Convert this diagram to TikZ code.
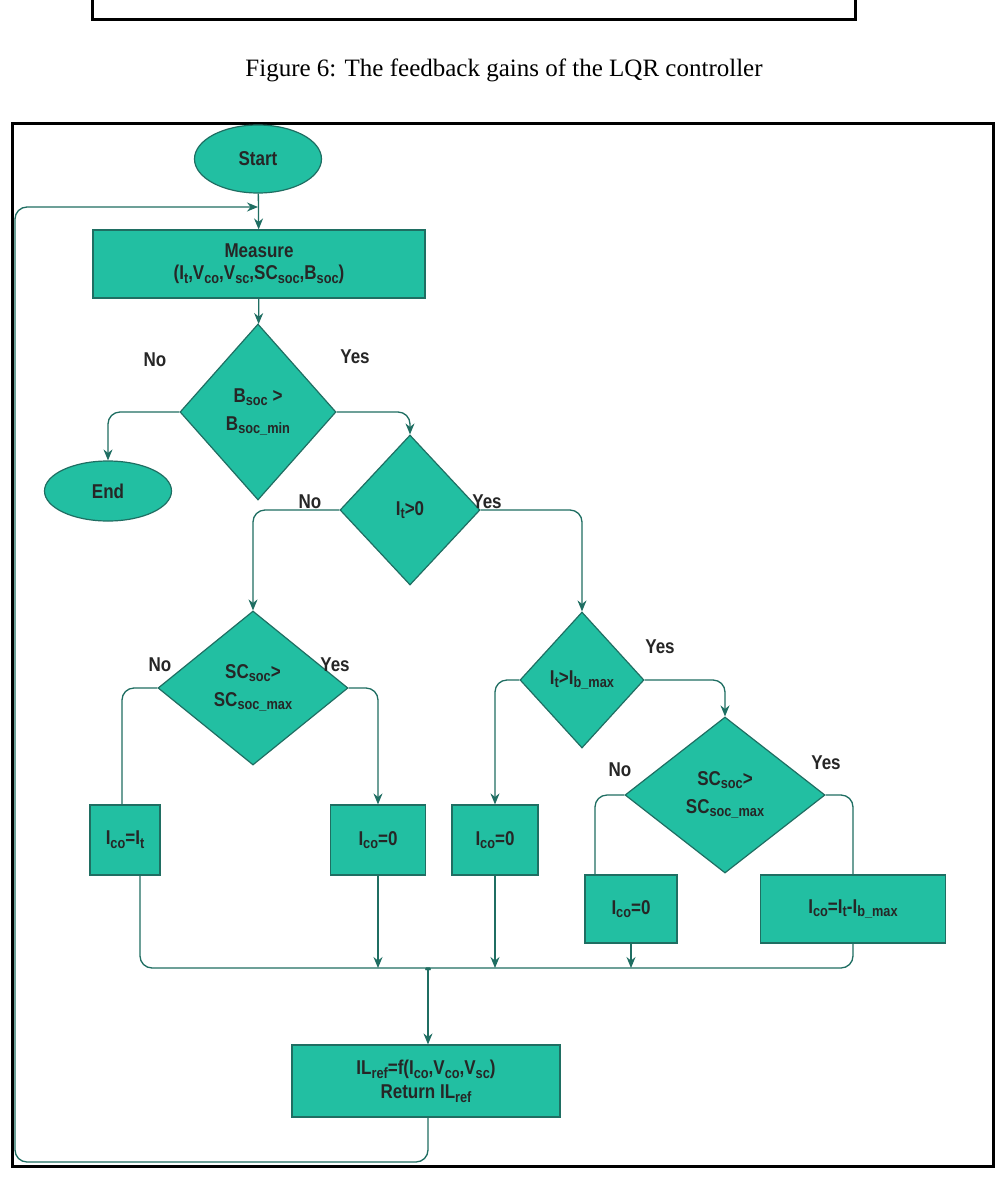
\documentclass[tikz,border=0pt]{standalone}
\usepackage{fontspec}
\setmainfont{Liberation Serif}
\newfontfamily\fcf[FakeStretch=0.85]{Liberation Sans}
\usetikzlibrary{shapes.geometric,arrows.meta}
\definecolor{tfill}{HTML}{22BFA2}
\definecolor{tline}{HTML}{1F6E62}
\newcommand{\sbs}[1]{\raisebox{-0.35ex}{\fontsize{15}{15}\selectfont #1}}
\tikzset{
 x=1pt,y=-1pt,
 base/.style={fill=tfill,draw=tline,line width=1.2pt,font=\fcf\bfseries\fontsize{20}{24}\selectfont,align=center,inner sep=0pt,text=black!85},
 term/.style={base,ellipse,minimum width=#1},
 proc/.style={base,rectangle},
 dec/.style={base,diamond},
 conn/.style={draw=tline,line width=1.3pt,rounded corners=12pt},
 arr/.style={conn,-{Stealth[length=11pt,width=9pt]}},
 lab/.style={font=\fcf\bfseries\fontsize{20}{24}\selectfont,text=black!85}
}
\begin{document}
\begin{tikzpicture}
\useasboundingbox (0,0) rectangle (1008,1181);
\fill[white] (0,0) rectangle (1008,1181);
% fragment of previous figure
\draw[line width=3pt] (92,-10) -- (92,19) -- (855,19) -- (855,-10);
\node[font=\fontsize{25}{30}\selectfont] (cap) at (504,70) {Figure 6: The feedback gains of the LQR controller};
\draw[line width=3pt] (12,123) rectangle (993,1166);
% nodes
\node[term=127pt,minimum height=68pt] (start) at (258,159) {Start};
\node[proc,minimum width=332pt,minimum height=68pt] (meas) at (259,264) {Measure\\[-2pt](I\sbs{t},V\sbs{co},V\sbs{sc},SC\sbs{soc},B\sbs{soc})};
\node[dec,minimum width=156pt,minimum height=176pt] (d1) at (258,412) {B\sbs{soc} >\\[4pt]B\sbs{soc\_min}};
\node[term=127pt,minimum height=60pt] (end) at (108,491) {End};
\node[dec,minimum width=140pt,minimum height=150pt] (d2) at (410,510) {I\sbs{t}>0};
\node[dec,minimum width=190pt,minimum height=154pt] (d3) at (253,688) {SC\sbs{soc}>\\[4pt]SC\sbs{soc\_max}};
\node[dec,minimum width=124pt,minimum height=136pt] (d4) at (582,680) {I\sbs{t}>I\sbs{b\_max}};
\node[dec,minimum width=200pt,minimum height=156pt] (d5) at (725,795) {SC\sbs{soc}>\\[4pt]SC\sbs{soc\_max}};
\node[proc,minimum width=70pt,minimum height=70pt] (b1) at (125,840) {I\sbs{co}=I\sbs{t}};
\node[proc,minimum width=95pt,minimum height=70pt] (b2) at (378,840) {I\sbs{co}=0};
\node[proc,minimum width=86pt,minimum height=70pt] (b3) at (495,840) {I\sbs{co}=0};
\node[proc,minimum width=92pt,minimum height=68pt] (b4) at (631,909) {I\sbs{co}=0};
\node[proc,minimum width=185pt,minimum height=68pt] (b5) at (853,909) {I\sbs{co}=I\sbs{t}-I\sbs{b\_max}};
\node[proc,minimum width=268pt,minimum height=72pt] (il) at (426,1081) {IL\sbs{ref}=f(I\sbs{co},V\sbs{co},V\sbs{sc})\\Return IL\sbs{ref}};
% labels
\node[lab] (n1) at (155,360) {No};
\node[lab] (y1) at (355,357) {Yes};
\node[lab] (n2) at (310,502) {No};
\node[lab] (y2) at (487,502) {Yes};
\node[lab] (n3) at (160,665) {No};
\node[lab] (y3) at (335,665) {Yes};
\node[lab] (y4) at (660,647) {Yes};
\node[lab] (n5) at (620,770) {No};
\node[lab] (y5) at (826,763) {Yes};
% connectors
\coordinate (loopin) at (258,207);
\coordinate (merge) at (428,968);
\draw[arr] (start) -- (meas);
\draw[arr] (meas) -- (d1);
\draw[arr] (d1.west) -| (end.north);
\draw[arr] (d1.east) -| (d2.north);
\draw[arr] (d2.west) -| (d3.north);
\draw[arr] (d2.east) -| (d4.north);
\draw[conn] (d3.west) -| (b1.north -| 122,0);
\draw[arr] (d3.east) -| (b2.north);
\draw[arr] (d4.west) -| (b3.north);
\draw[arr] (d4.east) -| (d5.north);
\draw[conn] (d5.west) -| (b4.north -| 595,0);
\draw[conn] (d5.east) -| (b5.north);
\draw[arr] (b2.south) -- (b2.south |- merge);
\draw[arr] (b3.south) -- (b3.south |- merge);
\draw[arr] (b4.south) -- (b4.south |- merge);
\draw[conn] (b1.south -| 140,0) |- (418,968) to[out=0,in=-90] (merge);
\draw[conn] (b5.south) |- (438,968) to[out=180,in=-90] (merge);
\draw[arr,rounded corners=0pt] (merge) -- (il.north -| merge);
\draw[arr] (il.south -| merge) -- (428,1162) -- (15,1162) -- (15,207) -- (loopin);
\end{tikzpicture}
\end{document}
